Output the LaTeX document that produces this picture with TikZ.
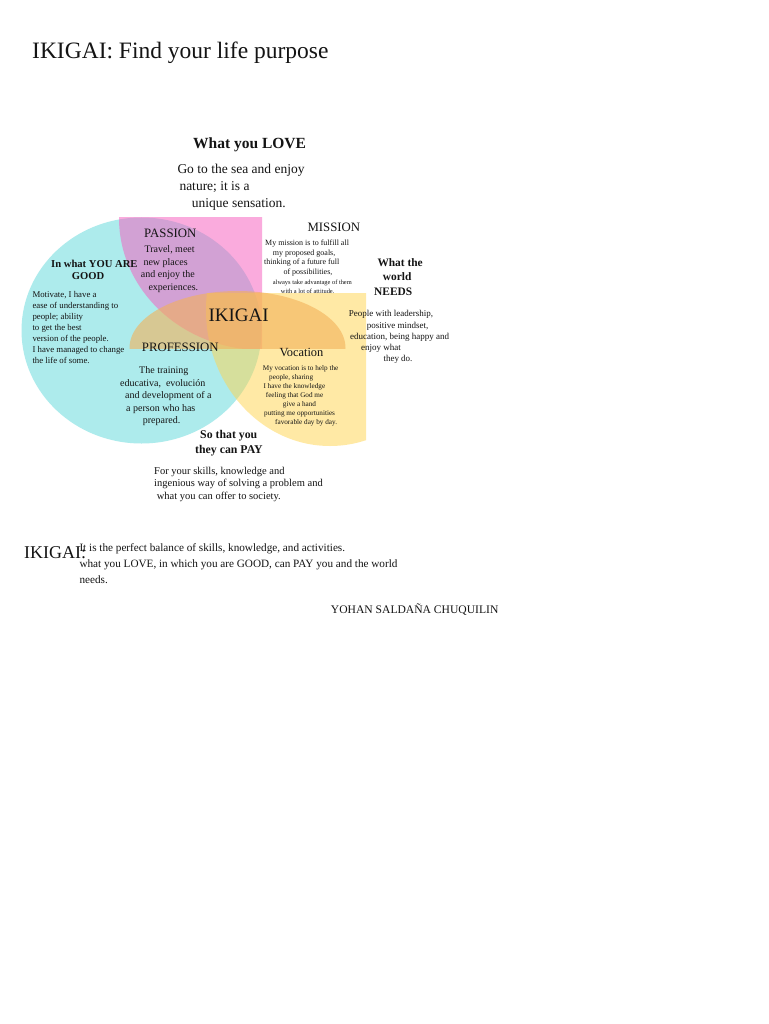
\documentclass[tikz,border=0pt]{standalone}
\usepackage{fontspec}
\setmainfont{Liberation Serif}
\usepackage{xcolor}
\definecolor{ink}{HTML}{141414}
\definecolor{good}{HTML}{ADEBEC}
\definecolor{love}{HTML}{F759BD}
\definecolor{paid}{HTML}{FFD54D}
\definecolor{core}{HTML}{F3B159}
\newcommand{\setsz}[2]{\fontsize{#1}{#2}\selectfont}
\tikzset{
  word/.style={inner sep=0pt, text=ink, anchor=base west},
  para/.style={inner sep=0pt, text=ink, anchor=north west, align=left},
}

\begin{document}
\begin{tikzpicture}[x=1pt, y=-1pt]
  \useasboundingbox (0,0) rectangle (768,1024);
  \fill[white] (0,0) rectangle (768,1024);

  % the four areas
  \fill[good] (141.5,330.5) ellipse [x radius=120, y radius=113];
  \begin{scope}
    \clip (119,218) rectangle (262,348);
    \fill[love, fill opacity=.5] (262,218) ellipse [x radius=143, y radius=132];
  \end{scope}
  \begin{scope}
    \clip (0,293) rectangle (366,1024);
    \fill[paid, fill opacity=.5] (330,310) ellipse [x radius=124, y radius=136];
  \end{scope}
  \begin{scope}
    \clip (0,0) rectangle (768,348);
    \fill[core, fill opacity=.6] (237.5,348) ellipse [x radius=108, y radius=57];
  \end{scope}

  \node[word, font=\setsz{23.5}{28}] (title) at (32,59) {IKIGAI: Find your life purpose};

  \node[word, font=\bfseries\setsz{15.5}{18}] (lovehead) at (193,149) {What you LOVE};
  \node[para, font=\setsz{13.5}{17}] (lovetext) at (177.3,164.1)
    {Go to the sea and enjoy\\\hspace*{2pt}nature; it is a\\\hspace*{14.4pt}unique sensation.};

  \node[word, font=\setsz{12.8}{15}] (passion) at (144,237) {PASSION};
  \node[para, font=\setsz{10}{12.7}] (passiontext) at (140.7,245.2)
    {\hspace*{3.6pt}Travel, meet\\\hspace*{2.6pt}new places\\and enjoy the\\\hspace*{7.6pt}experiences.};

  \node[para, font=\bfseries\setsz{10.6}{12.3}] (goodhead) at (51,259.5)
    {In what YOU ARE\\\hspace*{20.7pt}GOOD};
  \node[para, font=\setsz{8.8}{11}] (goodtext) at (32.3,290.7)
    {Motivate, I have a\\ease of understanding to\\people; ability\\to get the best\\version of the people.\\I have managed to change\\the life of some.};

  \node[word, font=\setsz{19}{22}] (core) at (208.3,321.7) {IKIGAI};

  \node[word, font=\setsz{12.8}{15}] (profession) at (141.7,351.7) {PROFESSION};
  \node[para, font=\setsz{10}{12.5}] (professiontext) at (120,366.5)
    {\hspace*{19pt}The training\\educativa,\ \ evolución\\\hspace*{5pt}and development of a\\\hspace*{6pt}a person who has\\\hspace*{22.7pt}prepared.};

  \node[word, font=\setsz{12.8}{15}] (mission) at (307.3,231.7) {MISSION};
  \node[para, font=\setsz{8}{9.7}] (missiontext) at (264,239.5)
    {\hspace*{1pt}My mission is to fulfill all\\\hspace*{8.7pt}my proposed goals,\\thinking of a future full\\\hspace*{19.3pt}of possibilities,};
  \node[para, font=\setsz{6.4}{9.4}] (missionnote) at (272.7,279.6)
    {always take advantage of them\\\hspace*{8pt}with a lot of attitude.};

  \node[para, font=\bfseries\setsz{11.4}{14.5}] (needshead) at (374,258.2)
    {\hspace*{3.3pt}What the\\\hspace*{8.7pt}world\\NEEDS};
  \node[para, font=\setsz{9}{11.25}] (needstext) at (348.7,310.5)
    {People with leadership,\\\hspace*{18pt}positive mindset,\\\hspace*{1.3pt}education, being happy and\\\hspace*{12.3pt}enjoy what\\\hspace*{34.6pt}they do.};

  \node[word, font=\setsz{12.4}{15}] (vocation) at (279.3,356) {Vocation};
  \node[para, font=\setsz{7.2}{8.9}] (vocationtext) at (262.7,365.8)
    {My vocation is to help the\\\hspace*{6.3pt}people, sharing\\\hspace*{0.6pt}I have the knowledge\\\hspace*{3pt}feeling that God me\\\hspace*{20pt}give a hand\\\hspace*{1.3pt}putting me opportunities\\\hspace*{12.3pt}favorable day by day.};

  \node[para, font=\bfseries\setsz{11.8}{15}] (payhead) at (195,430.2)
    {\hspace*{5pt}So that you\\they can PAY};
  \node[para, font=\setsz{10.5}{12.5}] (paytext) at (154,466.8)
    {For your skills, knowledge and\\ingenious way of solving a problem and\\\hspace*{2.7pt}what you can offer to society.};

  \node[word, font=\setsz{18}{21}] (sumhead) at (24,558.3) {IKIGAI:};
  \node[para, font=\setsz{11.2}{16.3}] (sumtext) at (79.3,543.1)
    {It is the perfect balance of skills, knowledge, and activities.\\what you LOVE, in which you are GOOD, can PAY you and the world\\needs.};
  \node[word, font=\setsz{11.6}{14}] (author) at (330.7,613) {YOHAN SALDAÑA CHUQUILIN};
\end{tikzpicture}
\end{document}
